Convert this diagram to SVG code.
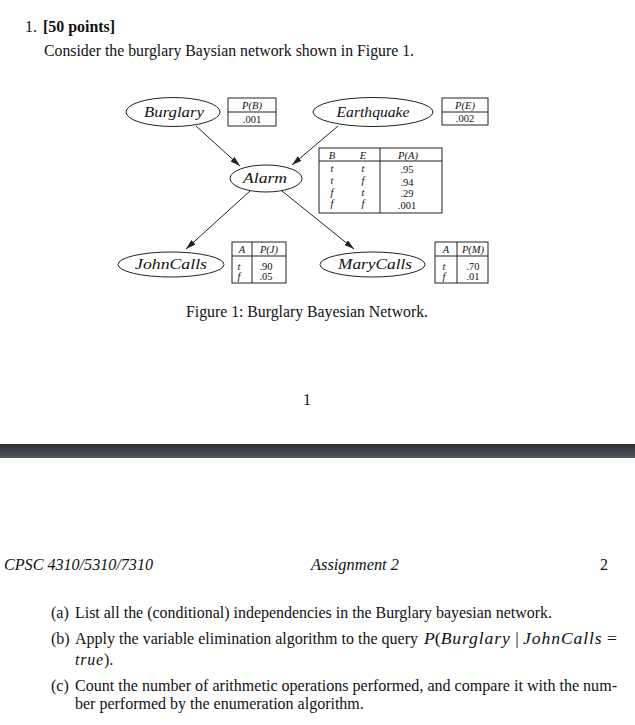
<svg xmlns="http://www.w3.org/2000/svg" width="635" height="725" viewBox="0 0 635 725">
<defs>
<style>
text{font-family:"Liberation Serif","Times New Roman",serif;fill:#111}
.body{font-size:16px}
.it{font-style:italic}
.b{font-weight:bold}
.lbl{font-size:14.5px;font-style:italic;text-anchor:middle}
.tb{font-size:10.5px;text-anchor:middle}
.node ellipse{fill:#fff;stroke:#222;stroke-width:1}
.cpt rect{fill:#fff;stroke:#222;stroke-width:1}
.cpt line{stroke:#222;stroke-width:1}
.edge{stroke:#222;stroke-width:1;fill:none;marker-end:url(#ah)}
</style>
<marker id="ah" viewBox="0 0 10 6" refX="10" refY="3" markerWidth="10" markerHeight="6" markerUnits="userSpaceOnUse" orient="auto">
<path d="M0,0 L10,3 L0,6 Z" fill="#222"/>
</marker>
<linearGradient id="band" x1="0" y1="0" x2="0" y2="1">
<stop offset="0" stop-color="#2c3034"/>
<stop offset="1" stop-color="#55595e"/>
</linearGradient>
</defs>
<rect width="635" height="725" fill="#fff"/>

<text class="body" x="25" y="32">1.</text>
<text class="body b" x="43" y="32" textLength="72" lengthAdjust="spacingAndGlyphs">[50 points]</text>
<text class="body" x="44" y="56" textLength="370" lengthAdjust="spacingAndGlyphs">Consider the burglary Baysian network shown in Figure 1.</text>

<g id="connectors">
<line class="edge" x1="196" y1="126" x2="240" y2="166"/>
<line class="edge" x1="338" y1="126" x2="292" y2="165"/>
<line class="edge" x1="250" y1="191" x2="186" y2="249"/>
<line class="edge" x1="282" y1="191" x2="354" y2="249"/>
</g>

<g id="burglary" class="node">
<ellipse cx="173" cy="112" rx="47" ry="14.5"/>
<text class="lbl" x="174" y="117" textLength="60" lengthAdjust="spacingAndGlyphs">Burglary</text>
</g>
<g id="cpt-b" class="cpt">
<rect x="228" y="98" width="48" height="28"/>
<line x1="228" y1="112" x2="276" y2="112"/>
<text class="tb it" x="252" y="108.5">P(B)</text>
<text class="tb" x="252" y="122.5">.001</text>
</g>

<g id="earthquake" class="node">
<ellipse cx="373" cy="112" rx="60" ry="14.5"/>
<text class="lbl" x="373" y="117" textLength="73" lengthAdjust="spacingAndGlyphs">Earthquake</text>
</g>
<g id="cpt-e" class="cpt">
<rect x="442" y="98" width="46" height="27"/>
<line x1="442" y1="112" x2="488" y2="112"/>
<text class="tb it" x="465" y="108.5">P(E)</text>
<text class="tb" x="465" y="122">.002</text>
</g>

<g id="alarm" class="node">
<ellipse cx="266" cy="178.5" rx="36" ry="13.5"/>
<text class="lbl" x="265" y="183" textLength="44" lengthAdjust="spacingAndGlyphs">Alarm</text>
</g>
<g id="cpt-a" class="cpt">
<rect x="319" y="148" width="123" height="65"/>
<line x1="319" y1="161" x2="442" y2="161"/>
<line x1="380" y1="148" x2="380" y2="213"/>
<text class="tb it" x="332" y="158.5">B</text>
<text class="tb it" x="363" y="158.5">E</text>
<text class="tb it" x="408" y="158.5">P(A)</text>
<text class="tb it" x="332" y="172">t</text><text class="tb it" x="363" y="172">t</text><text class="tb" x="407" y="173">.95</text>
<text class="tb it" x="332" y="184">t</text><text class="tb it" x="363" y="184">f</text><text class="tb" x="407" y="186">.94</text>
<text class="tb it" x="332" y="196">f</text><text class="tb it" x="363" y="196">t</text><text class="tb" x="407" y="197">.29</text>
<text class="tb it" x="332" y="207">f</text><text class="tb it" x="363" y="207">f</text><text class="tb" x="407" y="209">.001</text>
</g>

<g id="johncalls" class="node">
<ellipse cx="171" cy="264.5" rx="53" ry="12.5"/>
<text class="lbl" x="171" y="269" textLength="72" lengthAdjust="spacingAndGlyphs">JohnCalls</text>
</g>
<g id="cpt-j" class="cpt">
<rect x="232" y="242" width="54" height="41"/>
<line x1="232" y1="256" x2="286" y2="256"/>
<line x1="252" y1="242" x2="252" y2="283"/>
<text class="tb it" x="242" y="253">A</text>
<text class="tb it" x="269" y="253">P(J)</text>
<text class="tb it" x="239" y="270">t</text><text class="tb" x="266" y="270">.90</text>
<text class="tb it" x="239" y="280">f</text><text class="tb" x="266" y="280">.05</text>
</g>

<g id="marycalls" class="node">
<ellipse cx="372.5" cy="264.5" rx="52.5" ry="12.5"/>
<text class="lbl" x="375" y="269" textLength="74" lengthAdjust="spacingAndGlyphs">MaryCalls</text>
</g>
<g id="cpt-m" class="cpt">
<rect x="435" y="242" width="53" height="41"/>
<line x1="435" y1="256" x2="488" y2="256"/>
<line x1="457" y1="242" x2="457" y2="283"/>
<text class="tb it" x="446" y="253">A</text>
<text class="tb it" x="473" y="253">P(M)</text>
<text class="tb it" x="444" y="270">t</text><text class="tb" x="473" y="270">.70</text>
<text class="tb it" x="444" y="280">f</text><text class="tb" x="473" y="280">.01</text>
</g>

<text class="body" x="186" y="317" textLength="242" lengthAdjust="spacingAndGlyphs">Figure 1: Burglary Bayesian Network.</text>
<text class="body" x="307" y="405" text-anchor="middle">1</text>

<rect x="0" y="444" width="635" height="14" fill="url(#band)"/>

<text class="body it" x="4" y="570" textLength="149" lengthAdjust="spacingAndGlyphs">CPSC 4310/5310/7310</text>
<text class="body it" x="311" y="570" textLength="88" lengthAdjust="spacingAndGlyphs">Assignment 2</text>
<text class="body" x="600" y="570">2</text>

<text class="body" x="51" y="618">(a)</text>
<text class="body" x="75" y="618" textLength="477" lengthAdjust="spacingAndGlyphs">List all the (conditional) independencies in the Burglary bayesian network.</text>
<text class="body" x="51" y="644">(b)</text>
<text class="body" x="75" y="644" textLength="343" lengthAdjust="spacingAndGlyphs">Apply the variable elimination algorithm to the query</text>
<text class="body it" x="424" y="644" textLength="193" lengthAdjust="spacingAndGlyphs">P<tspan font-style="normal">(</tspan><tspan letter-spacing="0.8">Burglary</tspan><tspan font-style="normal"> | </tspan><tspan letter-spacing="0.8">JohnCalls</tspan><tspan font-style="normal"> =</tspan></text>
<text class="body" x="75" y="665"><tspan class="it" letter-spacing="0.8">true</tspan>).</text>
<text class="body" x="51" y="691">(c)</text>
<text class="body" x="75" y="691" textLength="542" lengthAdjust="spacingAndGlyphs">Count the number of arithmetic operations performed, and compare it with the num-</text>
<text class="body" x="75" y="709">ber performed by the enumeration algorithm.</text>
</svg>
